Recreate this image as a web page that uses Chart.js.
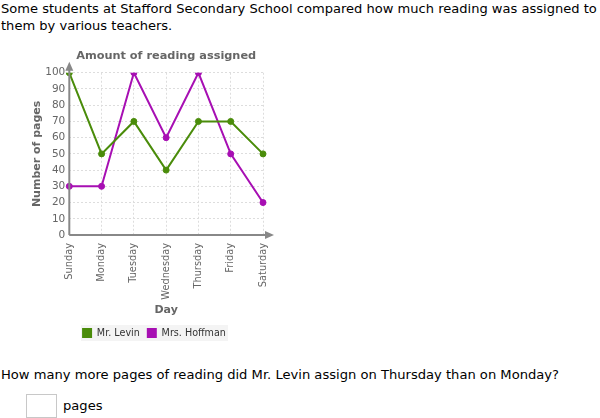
<!DOCTYPE html>
<html><head><meta charset="utf-8">
<script src="https://cdn.jsdelivr.net/npm/chart.js@4.4.0/dist/chart.umd.min.js"></script>
<style>
html,body{margin:0;padding:0;background:#fff;width:600px;height:418px;overflow:hidden;font-family:"DejaVu Sans",Verdana,sans-serif;color:#000;}
#intro{position:absolute;left:1px;top:0px;width:606px;font-size:13.05px;line-height:17px;}
#wrap{position:absolute;left:20px;top:40px;width:266px;height:311px;}
#q{position:absolute;left:1px;top:367px;font-size:13.1px;}
#box{position:absolute;left:26px;top:394px;width:31px;height:24px;border:1px solid #c8c8c8;box-sizing:border-box;}
#unit{position:absolute;left:63px;top:398px;font-size:13.1px;}
</style></head>
<body>
<div id="intro">Some students at Stafford Secondary School compared how much reading was assigned to them by various teachers.</div>
<div id="wrap"><canvas id="c" width="266" height="311"></canvas></div>
<div id="q">How many more pages of reading did Mr. Levin assign on Thursday than on Monday?</div>
<div id="box"></div>
<div id="unit">pages</div>
<script>
const days = ["Sunday","Monday","Tuesday","Wednesday","Thursday","Friday","Saturday"];
const levin = [100,50,70,40,70,70,50];
const hoffman = [30,30,100,60,100,50,20];
const yTicks = [0,10,20,30,40,50,60,70,80,90,100];

const green = "#4a8c0a", purple = "#a70fb3";
const legendShift = 7;

const arrows = {
  id:"arrows",
  afterLayout(chart){
    const lg = chart.legend;
    if(!lg) return;
    lg.left += legendShift; lg.right += legendShift;
    (lg.legendHitBoxes || []).forEach(h => { h.left += legendShift; });
  },
  afterDatasetsDraw(chart){
    const ctx = chart.ctx, a = chart.chartArea;
    const x0 = chart.scales.x.getPixelForValue(0);
    const y0 = chart.scales.y.getPixelForValue(0);
    ctx.save();
    ctx.strokeStyle = "#888"; ctx.fillStyle = "#888"; ctx.lineWidth = 2;
    ctx.beginPath(); ctx.moveTo(x0, y0); ctx.lineTo(a.right + 5, y0); ctx.stroke();
    ctx.beginPath(); ctx.moveTo(x0, y0); ctx.lineTo(x0, a.top - 5); ctx.stroke();
    ctx.beginPath(); ctx.moveTo(a.right + 11, y0); ctx.lineTo(a.right + 2, y0 - 4); ctx.lineTo(a.right + 2, y0 + 4); ctx.closePath(); ctx.fill();
    ctx.beginPath(); ctx.moveTo(x0, a.top - 11); ctx.lineTo(x0 - 4, a.top - 2); ctx.lineTo(x0 + 4, a.top - 2); ctx.closePath(); ctx.fill();
    ctx.restore();
  },
  beforeDraw(chart){
    const lg = chart.legend;
    if(!lg || !lg.legendHitBoxes || !lg.legendHitBoxes.length) return;
    const hb = lg.legendHitBoxes;
    const last = hb[hb.length-1];
    const l = hb[0].left - 1, r = last.left + last.width + 2;
    const cy = hb[0].top + hb[0].height / 2;
    chart.ctx.save(); chart.ctx.fillStyle = "#f4f4f4"; chart.ctx.fillRect(l, cy - 8, r - l, 16); chart.ctx.restore();
  }
};

new Chart(document.getElementById("c"), {
  type: "line",
  data: {
    labels: days,
    datasets: [
      {label:"Mr. Levin", data: levin, borderColor: green, backgroundColor: green, pointBackgroundColor: green, pointBorderColor: green, borderWidth: 2, pointRadius: 3, pointBorderWidth: 1, tension: 0},
      {label:"Mrs. Hoffman", data: hoffman, borderColor: purple, backgroundColor: purple, pointBackgroundColor: purple, pointBorderColor: purple, borderWidth: 2, pointRadius: 3, pointBorderWidth: 1, tension: 0}
    ]
  },
  options: {
    responsive: false, animation: false, devicePixelRatio: 1,
    layout: {padding: {left: 11, right: 23, top: 0, bottom: 3}},
    plugins: {
      title: {display: true, fullSize: false, text: "Amount of reading assigned", color: "#666", font: {family: "DejaVu Sans", size: 11.3, weight: "bold"}, padding: {top: 9, bottom: 10.2}},
      legend: {position: "bottom", labels: {boxWidth: 10, boxHeight: 10, color: "#333", font: {family: "DejaVu Sans", size: 9.6}, padding: 7, generateLabels(chart){
        return chart.data.datasets.map((d,i)=>({text: d.label, fillStyle: d.borderColor, strokeStyle: d.borderColor, lineWidth: 0, datasetIndex: i, fontColor: "#333"}));
      }}},
      tooltip: {enabled: false}
    },
    scales: {
      x: {
        offset: false,
        grid: {color: "#ddd", tickLength: 0, drawTicks: false},
        border: {display: false, dash: [2,2]},
        ticks: {color: "#666", font: {family: "DejaVu Sans", size: 9.8}, minRotation: 90, maxRotation: 90, padding: 8, autoSkip: false},
        title: {display: true, text: "Day", color: "#666", font: {family: "DejaVu Sans", size: 11, weight: "bold"}, padding: {top: 6, bottom: 4}},
        afterFit(s){ s.height = 86; }
      },
      y: {
        min: 0, max: 100,
        afterBuildTicks(s){ s.ticks = yTicks.map(v=>({value:v})); },
        grid: {color: "#ddd", tickLength: 0, drawTicks: false},
        border: {display: false, dash: [2,2]},
        ticks: {color: "#666", font: {family: "DejaVu Sans", size: 10.5}, padding: 4, autoSkip: false},
        title: {display: true, text: "Number of pages", color: "#666", font: {family: "DejaVu Sans", size: 11, weight: "bold"}, padding: {top: 0, bottom: 2}},
        afterFit(s){ s.width = 38.3; }
      }
    }
  },
  plugins: [arrows]
});
</script>
</body></html>
